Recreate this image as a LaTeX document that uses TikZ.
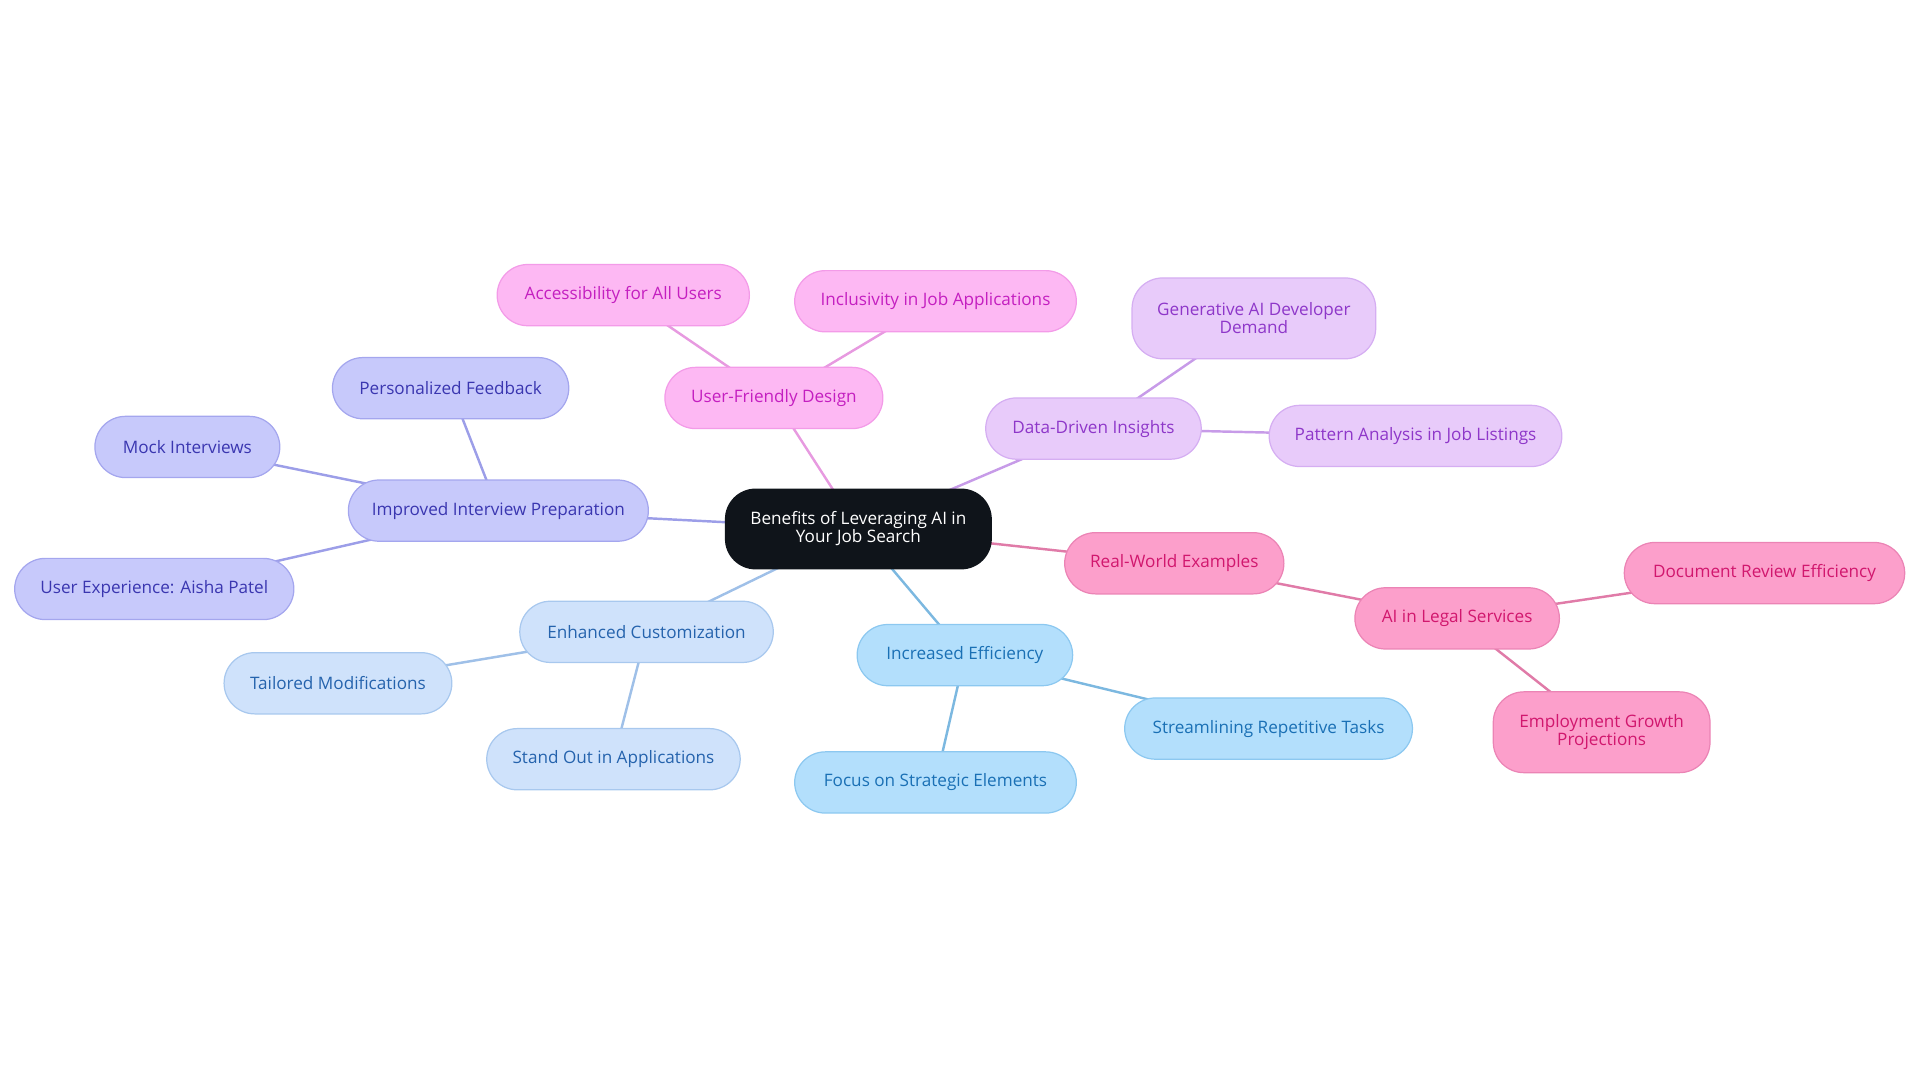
\documentclass[tikz,border=0pt]{standalone}
\usepackage{fontspec}
\setmainfont{Open Sans}
\usetikzlibrary{backgrounds}
\definecolor{cBg}{HTML}{0F141A}
\definecolor{iF}{HTML}{C7C9FB}\definecolor{iD}{HTML}{A4A6EE}\definecolor{iT}{HTML}{3A36B0}\definecolor{iL}{HTML}{9C9EE8}
\definecolor{uF}{HTML}{FDB8F3}\definecolor{uD}{HTML}{F39BE8}\definecolor{uT}{HTML}{C41FC0}\definecolor{uL}{HTML}{E79AE0}
\definecolor{dF}{HTML}{E8CBFA}\definecolor{dD}{HTML}{D5AEF2}\definecolor{dT}{HTML}{8E37C9}\definecolor{dL}{HTML}{C79BE8}
\definecolor{rF}{HTML}{FC9FCB}\definecolor{rD}{HTML}{EB84B5}\definecolor{rT}{HTML}{D1176E}\definecolor{rL}{HTML}{E07BA8}
\definecolor{eF}{HTML}{B3DFFC}\definecolor{eD}{HTML}{8CC8F0}\definecolor{eT}{HTML}{1A70B5}\definecolor{eL}{HTML}{7CB8E0}
\definecolor{cF}{HTML}{CFE2FB}\definecolor{cD}{HTML}{A8C8EE}\definecolor{cT}{HTML}{2563AD}\definecolor{cL}{HTML}{9FC0E8}
\tikzset{
 x=0.5pt,y=-0.5pt,
 pill/.style={rounded corners=12.5pt,minimum height=25pt,align=center,font=\fontsize{7}{7.4}\selectfont,inner sep=0pt,line width=0.5pt},
 tall/.style={minimum height=33pt},
 ib/.style={pill,fill=iF,draw=iD,text=iT},
 ub/.style={pill,fill=uF,draw=uD,text=uT},
 db/.style={pill,fill=dF,draw=dD,text=dT},
 rb/.style={pill,fill=rF,draw=rD,text=rT},
 eb/.style={pill,fill=eF,draw=eD,text=eT},
 cb/.style={pill,fill=cF,draw=cD,text=cT},
 ln/.style={line width=1pt}
}
\begin{document}
\begin{tikzpicture}
\useasboundingbox (0,0) rectangle (1568,884);
\node[pill,tall,fill=cBg,text=white,minimum width=109pt] (c) at (701,432) {Benefits of Leveraging AI in\\Your Job Search};
\node[ib,minimum width=122.5pt] (ip) at (407,417) {Improved Interview Preparation};
\node[ib,minimum width=96.5pt] (pf) at (368,317) {Personalized Feedback};
\node[ib,minimum width=75.5pt] (mi) at (153,365) {Mock Interviews};
\node[ib,minimum width=114pt] (ux) at (126,481) {User Experience: Aisha Patel};
\node[ub,minimum width=89pt] (ud) at (632,325) {User-Friendly Design};
\node[ub,minimum width=103pt] (ac) at (509,241) {Accessibility for All Users};
\node[ub,minimum width=115pt] (in) at (764,246) {Inclusivity in Job Applications};
\node[db,minimum width=88pt] (dd) at (893,350) {Data-Driven Insights};
\node[db,tall,minimum width=99.5pt] (ga) at (1024,260) {Generative AI Developer\\Demand};
\node[db,minimum width=119.5pt] (pa) at (1156,356) {Pattern Analysis in Job Listings};
\node[rb,minimum width=89.5pt] (rw) at (959,460) {Real-World Examples};
\node[rb,minimum width=83.5pt] (al) at (1190,505) {AI in Legal Services};
\node[rb,minimum width=114.5pt] (dr) at (1441,468) {Document Review Efficiency};
\node[rb,tall,minimum width=88.5pt] (eg) at (1308,598) {Employment Growth\\Projections};
\node[eb,minimum width=88pt] (ie) at (788,535) {Increased Efficiency};
\node[eb,minimum width=117.5pt] (sr) at (1036,595) {Streamlining Repetitive Tasks};
\node[eb,minimum width=115pt] (fs) at (764,639) {Focus on Strategic Elements};
\node[cb,minimum width=103.5pt] (ec) at (528,516) {Enhanced Customization};
\node[cb,minimum width=93pt] (tm) at (276,558) {Tailored Modifications};
\node[cb,minimum width=103.5pt] (so) at (501,620) {Stand Out in Applications};
\begin{scope}[on background layer]
\draw[ln,iL] (c.center)--(ip.center) (ip.center)--(pf.center) (ip.center)--(mi.center) (ip.center)--(ux.center);
\draw[ln,uL] (c.center)--(ud.center) (ud.center)--(ac.center) (ud.center)--(in.center);
\draw[ln,dL] (c.center)--(dd.center) (dd.center)--(ga.center) (dd.center)--(pa.center);
\draw[ln,rL] (c.center)--(rw.center) (rw.center)--(al.center) (al.center)--(dr.center) (al.center)--(eg.center);
\draw[ln,eL] (c.center)--(ie.center) (ie.center)--(sr.center) (ie.center)--(fs.center);
\draw[ln,cL] (c.center)--(ec.center) (ec.center)--(tm.center) (ec.center)--(so.center);
\end{scope}
\end{tikzpicture}
\end{document}
